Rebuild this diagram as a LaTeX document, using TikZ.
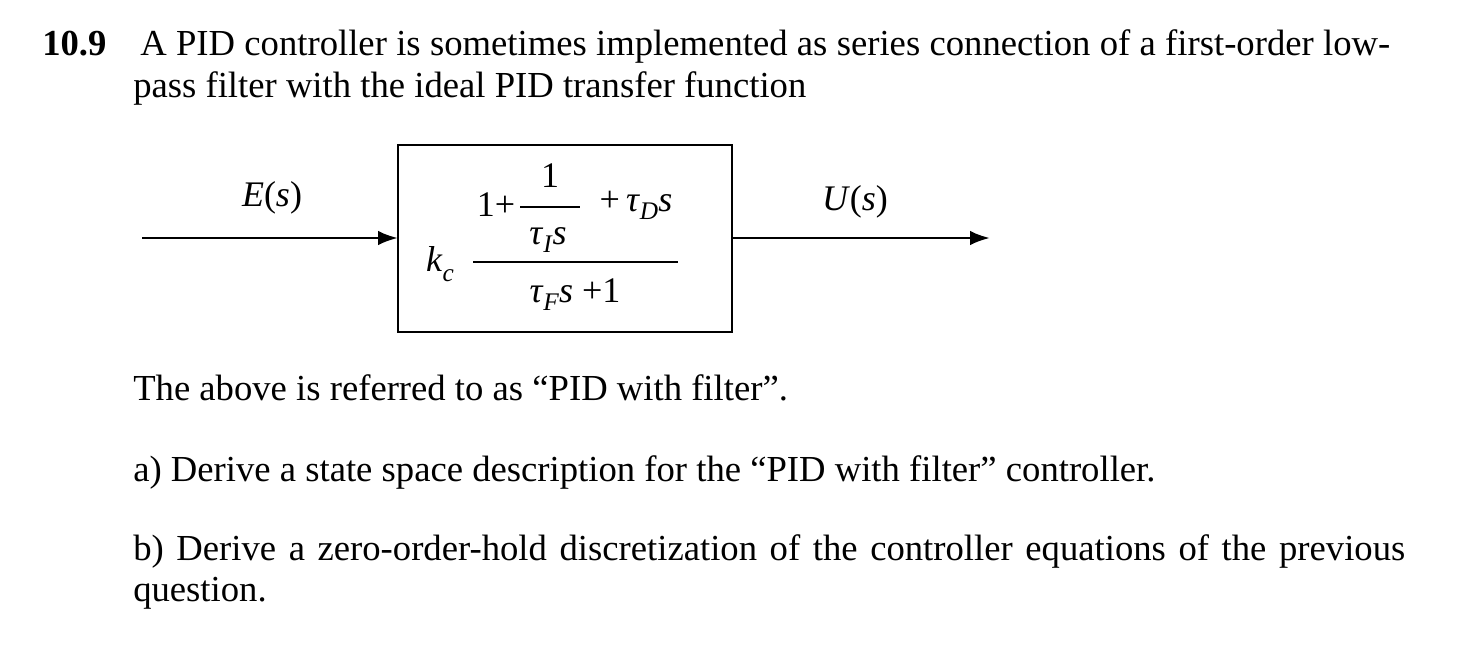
\documentclass[tikz,border=0pt]{standalone}
\usepackage{fontspec}
\setmainfont{Liberation Serif}
\tikzset{txt/.style={anchor=base west,inner sep=0pt,font=\fontsize{27.5}{32}\selectfont},
 mth/.style={inner sep=0pt,font=\fontsize{27}{32}\selectfont},
 arr/.style={line width=2.2pt,-{Latex[length=15pt,width=11pt]}}}
\usetikzlibrary{arrows.meta}
\newcommand{\sbs}[1]{\raisebox{-6pt}{\fontsize{19}{22}\selectfont\textit{#1}}}
\begin{document}
\begin{tikzpicture}[x=0.75pt,y=-0.75pt]
\useasboundingbox (0,0) rectangle (1478,654);
\node[txt] (n) at (42,55) {\textbf{10.9}};
\node[txt] (l1) at (140,55) {\hbox to 937.5pt{A PID controller is sometimes implemented as series connection of a first-order low-}};
\node[txt] (l2) at (133,97) {pass filter with the ideal PID transfer function};
\draw[line width=2pt] (398,145) rectangle (732,332);
\coordinate (bl) at (398,238); \coordinate (bR) at (732,238);
\coordinate (s) at (142,238); \coordinate (e) at (990,238);
\draw[arr] (s) -- (bl);
\draw[arr] (bR) -- (e);
\node[mth] (E) at (272,198) {\textit{E}(\textit{s})};
\node[mth] (U) at (855,202) {\textit{U}(\textit{s})};
\node[mth] (one) at (550,176) {1};
\node[mth] (op) at (496,205) {1+};
\draw[line width=0.8pt] (520,207) -- (580,207);
\node[mth] (ti) at (548,240) {\textit{τ}\sbs{I}\textit{s}};
\node[mth] (td) at (636,205) {+\,\textit{τ}\sbs{D}\textit{s}};
\draw[line width=0.8pt] (473,262) -- (678,262);
\node[mth] (kc) at (440,264) {\textit{k}\raisebox{-8pt}{\fontsize{19}{22}\selectfont\textit{c}}};
\node[mth] (tf) at (575,295) {\textit{τ}\sbs{F}\textit{s} +1};
\node[txt] (t1) at (133,400) {The above is referred to as “PID with filter”.};
\node[txt] (t2) at (133,481) {a) Derive a state space description for the “PID with filter” controller.};
\node[txt] (t3) at (133,560) {\hbox to 954pt{b)\hfill Derive\hfill a\hfill zero-order-hold\hfill discretization\hfill of\hfill the\hfill controller\hfill equations\hfill of\hfill the\hfill previous}};
\node[txt] (t4) at (133,601) {question.};
\end{tikzpicture}
\end{document}
